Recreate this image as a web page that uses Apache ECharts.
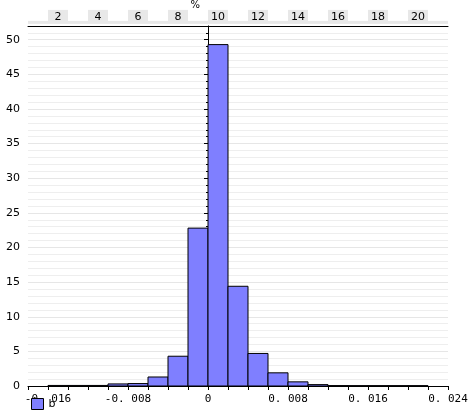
<!DOCTYPE html><html><head><meta charset="utf-8"><script src="https://cdn.jsdelivr.net/npm/echarts@6/dist/echarts.min.js"></script></head><body style="margin:0"><div id="c" style="width:474px;height:417px"></div><script>
var binStarts=[-0.016,-0.014,-0.012,-0.010,-0.008,-0.006,-0.004,-0.002,0,0.002,0.004,0.006,0.008,0.010,0.012,0.014,0.016,0.018,0.020];
var values=[0.08,0.08,0.08,0.3,0.35,1.3,4.3,22.8,49.3,14.4,4.7,1.9,0.6,0.2,0.06,0.05,0.05,0.05,0.05];
var binWidth=0.002;
var topCats=['1','2','3','4','5','6','7','8','9','10','11','12','13','14','15','16','17','18','19','20','21'];
var xTicks=[-0.016,-0.008,0,0.008,0.016,0.024];
var chart=echarts.init(document.getElementById('c'));
chart.setOption({
 animation:false,
 textStyle:{fontFamily:'DejaVu Sans'},
 grid:{left:28,right:26,top:15,bottom:31},
 legend:{left:26,bottom:2,itemWidth:12,itemHeight:11,itemGap:4,textStyle:{fontSize:11,color:'#000'},data:[{name:'b',icon:'rect',itemStyle:{color:'#7f7fff',borderColor:'#000',borderWidth:1}}]},
 xAxis:[{type:'value',min:-0.018,max:0.024,interval:0.002,
   axisLine:{lineStyle:{color:'#000'}},axisTick:{lineStyle:{color:'#000'},length:4},splitLine:{show:false},
   axisLabel:{color:'#000',fontSize:11,fontFamily:'DejaVu Sans Mono',formatter:function(v){var r=Math.round(v*1000);return (r%8===0&&r>=-16)?(r===0?'0':v.toFixed(3).replace('.','. ')):'';}}},
  {type:'category',position:'top',data:topCats,boundaryGap:true,
   axisLine:{lineStyle:{color:'#000'}},axisTick:{lineStyle:{color:'#000'},length:3,interval:1,alignWithLabel:false},
   axisLabel:{interval:0,color:'#000',fontSize:11,formatter:function(v){return (+v%2===0)?v:'';},backgroundColor:'#e8e8e8',width:20,align:'center',padding:[2,0,1,0],margin:2}}],
 yAxis:{type:'value',min:0,max:52,interval:5,name:'%',nameLocation:'end',nameGap:2,nameTextStyle:{color:'#000',fontSize:10,align:'right',padding:[0,8,0,0]},
   axisLine:{show:true,lineStyle:{color:'#000'}},axisTick:{show:true,lineStyle:{color:'#000'},length:4},
   minorTick:{show:true,splitNumber:5,length:2,lineStyle:{color:'#000'}},
   splitLine:{show:true,lineStyle:{color:'#e6e6e6'}},minorSplitLine:{show:true,lineStyle:{color:'#eeeeee'}},
   axisLabel:{color:'#000',fontSize:11,formatter:function(v){return v%5===0&&v<=50?v:'';}}},
 series:[{name:'b',type:'custom',xAxisIndex:0,
   data:binStarts.map(function(s,i){return [s,s+binWidth,values[i]];}),
   encode:{x:[0,1],y:2},
   renderItem:function(p,api){var a=api.coord([api.value(0),api.value(2)]),b=api.coord([api.value(1),0]);
     return {type:'rect',shape:{x:a[0],y:a[1],width:b[0]-a[0],height:b[1]-a[1]},style:{fill:'#7f7fff',stroke:'#000',lineWidth:1}};},
   itemStyle:{color:'#7f7fff'}}]
});
</script></body></html>
